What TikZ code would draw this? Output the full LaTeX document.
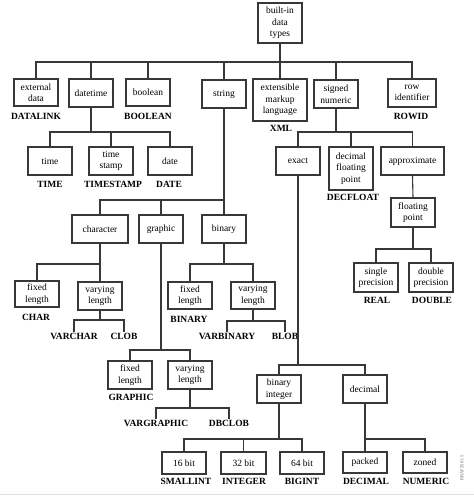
\documentclass[tikz,border=0pt]{standalone}
\usepackage{fontspec}
\setmainfont{Liberation Serif}
\newcommand\mybox[6]{\node[box,minimum width={(#4)-(#2)},minimum height={(#5)-(#3)}] (#1) at ({((#2)+(#4))/2},{((#3)+(#5))/2}) {#6};}
\begin{document}
\begin{tikzpicture}[x=1pt,y=-1pt,
 box/.style={draw=black!78,line width=1.1pt,inner sep=0pt,align=center,font=\fontsize{9.5}{11.5}\selectfont},
 lbl/.style={inner sep=0.5pt,font=\fontsize{9.5}{11}\selectfont\bfseries},
 con/.style={draw=black!78,line width=1.1pt}]
\fill[white] (0,0) rectangle (474,496);
\useasboundingbox (0,0) rectangle (474,496);
% boxes
\mybox{root}{258}{3}{302}{43}{built-in\\data\\types}
\mybox{ext}{14}{79}{58}{106}{external\\data}
\mybox{dt}{69}{79}{113}{107}{datetime}
\mybox{bool}{126}{79}{170}{106}{boolean}
\mybox{str}{202}{80}{246}{108}{string}
\mybox{xml}{253}{79}{307}{121}{extensible\\markup\\language}
\mybox{sig}{314}{80}{358}{108}{signed\\numeric}
\mybox{row}{388}{79}{436}{107}{row\\identifier}
\mybox{time}{28}{147}{72}{175}{time}
\mybox{ts}{89}{147}{133}{175}{time\\stamp}
\mybox{date}{148}{147}{192}{175}{date}
\mybox{exact}{276}{147}{320}{175}{exact}
\mybox{dec}{329}{147}{373}{190}{decimal\\floating\\point}
\mybox{approx}{381}{147}{444}{175}{approximate}
\mybox{fp}{391}{198}{435}{227}{floating\\point}
\mybox{char}{72}{215}{128}{243}{character}
\mybox{graph}{139}{215}{183}{243}{graphic}
\mybox{bin}{202}{215}{246}{243}{binary}
\mybox{cfix}{15}{281}{59}{307}{fixed\\length}
\mybox{cvar}{78}{282}{122}{310}{varying\\length}
\mybox{bfix}{168}{282}{212}{309}{fixed\\length}
\mybox{bvar}{231}{282}{275}{309}{varying\\length}
\mybox{sp}{354}{263}{398}{292}{single\\precision}
\mybox{dp}{409}{263}{453}{292}{double\\precision}
\mybox{gfix}{108}{361}{152}{389}{fixed\\length}
\mybox{gvar}{168}{361}{212}{389}{varying\\length}
\mybox{bi}{257}{375}{301}{403}{binary\\integer}
\mybox{deci}{343}{375}{387}{403}{decimal}
\mybox{b16}{162}{452}{206}{474}{16 bit}
\mybox{b32}{221}{452}{266}{474}{32 bit}
\mybox{b64}{280}{452}{324}{474}{64 bit}
\mybox{packed}{343}{452}{387}{473}{packed}
\mybox{zoned}{403}{452}{447}{473}{zoned}
% labels
\node[lbl] (lDATALINK) at (36,116) {DATALINK};
\node[lbl] (lBOOLEAN) at (148,116) {BOOLEAN};
\node[lbl] (lXML) at (281,128) {XML};
\node[lbl] (lROWID) at (411,116) {ROWID};
\node[lbl] (lTIME) at (50,184) {TIME};
\node[lbl] (lTIMESTAMP) at (113,184) {TIMESTAMP};
\node[lbl] (lDATE) at (169,184) {DATE};
\node[lbl] (lDECFLOAT) at (353,197) {DECFLOAT};
\node[lbl] (lCHAR) at (36,317) {CHAR};
\node[lbl] (lVARCHAR) at (74,336) {VARCHAR};
\node[lbl] (lCLOB) at (124,336) {CLOB};
\node[lbl] (lBINARY) at (189,319) {BINARY};
\node[lbl] (lVARBINARY) at (227,336) {VARBINARY};
\node[lbl] (lBLOB) at (285,336) {BLOB};
\node[lbl] (lREAL) at (377,300) {REAL};
\node[lbl] (lDOUBLE) at (432,300) {DOUBLE};
\node[lbl] (lGRAPHIC) at (131,397) {GRAPHIC};
\node[lbl] (lVARGRAPHIC) at (156,423) {VARGRAPHIC};
\node[lbl] (lDBCLOB) at (229,423) {DBCLOB};
\node[lbl] (lSMALLINT) at (186,481) {SMALLINT};
\node[lbl] (lINTEGER) at (244,481) {INTEGER};
\node[lbl] (lBIGINT) at (302,481) {BIGINT};
\node[lbl] (lDECIMAL) at (366,481) {DECIMAL};
\node[lbl] (lNUMERIC) at (426,481) {NUMERIC};
\node[rotate=90,inner sep=0pt,font=\fontsize{4.5}{5}\selectfont,text=black!60] (figid) at (462,468) {RBAFZ501-5};
% connectors
\foreach \c in {ext,dt,bool,str,xml,sig,row} \draw[con] (root.south) -- (root.south|-0,62) -| (\c.north);
\foreach \c in {time,ts,date} \draw[con] (dt.south) -- (dt.south|-0,132) -| (\c.north);
\foreach \c in {exact,dec,approx} \draw[con] (sig.south) -- (sig.south|-0,132) -| (\c.north);
\draw[con] (approx.south) -- (fp.north);
\foreach \c in {sp,dp} \draw[con] (fp.south) -- (fp.south|-0,249) -| (\c.north);
\foreach \c in {char,graph,bin} \draw[con] (str.south) -- (str.south|-0,200) -| (\c.north);
\foreach \c in {cfix,cvar} \draw[con] (char.south) -- (char.south|-0,264) -| (\c.north);
\foreach \c in {bfix,bvar} \draw[con] (bin.south) -- (bin.south|-0,264) -| (\c.north);
\foreach \c in {gfix,gvar} \draw[con] (graph.south) -- (graph.south|-0,350) -| (\c.north);
\foreach \c in {bi,deci} \draw[con] (exact.south) -- (exact.south|-0,365) -| (\c.north);
\foreach \c in {b16,b32,b64} \draw[con] (bi.south) -- (bi.south|-0,439) -| (\c.north);
\foreach \c in {packed,zoned} \draw[con] (deci.south) -- (deci.south|-0,439) -| (\c.north);
\foreach \c in {lVARCHAR,lCLOB} \draw[con] (cvar.south) -- (cvar.south|-0,320) -| (\c.north);
\foreach \c in {lVARBINARY,lBLOB} \draw[con] (bvar.south) -- (bvar.south|-0,321) -| (\c.north);
\foreach \c in {lVARGRAPHIC,lDBCLOB} \draw[con] (gvar.south) -- (gvar.south|-0,408) -| (\c.north);
\draw[black!12,line width=1.5pt] (0,494.5) -- (474,494.5);
\end{tikzpicture}
\end{document}
